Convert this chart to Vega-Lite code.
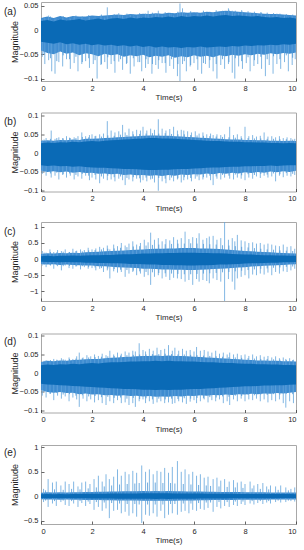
{
"$schema":"https://vega.github.io/schema/vega-lite/v6.json",
"padding":{"left":3,"top":1,"right":8,"bottom":0},
"spacing":8.5,
"config":{"font":"Liberation Sans","view":{"stroke":"#a8a8a8","strokeWidth":1},
"axis":{"labelFont":"Liberation Sans","labelFontSize":7.5,"labelColor":"#262626","titleFont":"Liberation Sans","titleFontWeight":"normal","titleColor":"#262626","tickColor":"#404040","tickSize":-3,"tickWidth":0.8,"domain":false,"grid":false,"labelOverlap":false},
"axisX":{"labelPadding":6,"titlePadding":2,"titleFontSize":8},
"axisY":{"labelPadding":6,"titlePadding":2,"titleFontSize":9,"minExtent":20,"maxExtent":20},
"title":{"font":"Liberation Sans","fontSize":10,"fontWeight":"normal","anchor":"start","frame":"bounds","color":"#262626","offset":-15,"dx":-6}},
"datasets":{
"a_core":[{"t":0,"chi":0.019,"clo":-0.024,"fhi":0.025,"flo":-0.042},{"t":0.25,"chi":0.021,"clo":-0.026,"fhi":0.028,"flo":-0.047},{"t":0.5,"chi":0.018,"clo":-0.028,"fhi":0.025,"flo":-0.05},{"t":0.75,"chi":0.022,"clo":-0.025,"fhi":0.029,"flo":-0.044},{"t":1,"chi":0.02,"clo":-0.029,"fhi":0.026,"flo":-0.049},{"t":1.25,"chi":0.021,"clo":-0.027,"fhi":0.029,"flo":-0.046},{"t":1.5,"chi":0.023,"clo":-0.03,"fhi":0.028,"flo":-0.052},{"t":1.75,"chi":0.02,"clo":-0.028,"fhi":0.028,"flo":-0.048},{"t":2,"chi":0.022,"clo":-0.031,"fhi":0.03,"flo":-0.05},{"t":2.25,"chi":0.024,"clo":-0.029,"fhi":0.029,"flo":-0.054},{"t":2.5,"chi":0.021,"clo":-0.032,"fhi":0.03,"flo":-0.049},{"t":2.75,"chi":0.024,"clo":-0.03,"fhi":0.031,"flo":-0.052},{"t":3,"chi":0.025,"clo":-0.033,"fhi":0.032,"flo":-0.05},{"t":3.25,"chi":0.023,"clo":-0.031,"fhi":0.031,"flo":-0.055},{"t":3.5,"chi":0.026,"clo":-0.034,"fhi":0.033,"flo":-0.052},{"t":3.75,"chi":0.024,"clo":-0.032,"fhi":0.032,"flo":-0.054},{"t":4,"chi":0.026,"clo":-0.035,"fhi":0.034,"flo":-0.051},{"t":4.25,"chi":0.025,"clo":-0.033,"fhi":0.033,"flo":-0.056},{"t":4.5,"chi":0.027,"clo":-0.036,"fhi":0.035,"flo":-0.053},{"t":4.75,"chi":0.026,"clo":-0.034,"fhi":0.034,"flo":-0.055},{"t":5,"chi":0.028,"clo":-0.036,"fhi":0.036,"flo":-0.052},{"t":5.25,"chi":0.026,"clo":-0.035,"fhi":0.035,"flo":-0.057},{"t":5.5,"chi":0.029,"clo":-0.037,"fhi":0.037,"flo":-0.054},{"t":5.75,"chi":0.027,"clo":-0.035,"fhi":0.036,"flo":-0.056},{"t":6,"chi":0.029,"clo":-0.036,"fhi":0.037,"flo":-0.052},{"t":6.25,"chi":0.028,"clo":-0.034,"fhi":0.036,"flo":-0.055},{"t":6.5,"chi":0.03,"clo":-0.036,"fhi":0.038,"flo":-0.053},{"t":6.75,"chi":0.028,"clo":-0.035,"fhi":0.037,"flo":-0.056},{"t":7,"chi":0.03,"clo":-0.034,"fhi":0.039,"flo":-0.052},{"t":7.25,"chi":0.031,"clo":-0.035,"fhi":0.04,"flo":-0.054},{"t":7.5,"chi":0.029,"clo":-0.033,"fhi":0.039,"flo":-0.051},{"t":7.75,"chi":0.03,"clo":-0.034,"fhi":0.038,"flo":-0.053},{"t":8,"chi":0.029,"clo":-0.032,"fhi":0.037,"flo":-0.05},{"t":8.25,"chi":0.028,"clo":-0.033,"fhi":0.036,"flo":-0.052},{"t":8.5,"chi":0.029,"clo":-0.031,"fhi":0.035,"flo":-0.049},{"t":8.75,"chi":0.027,"clo":-0.032,"fhi":0.034,"flo":-0.051},{"t":9,"chi":0.026,"clo":-0.03,"fhi":0.033,"flo":-0.048},{"t":9.25,"chi":0.027,"clo":-0.031,"fhi":0.033,"flo":-0.05},{"t":9.5,"chi":0.025,"clo":-0.029,"fhi":0.032,"flo":-0.047},{"t":9.75,"chi":0.026,"clo":-0.03,"fhi":0.031,"flo":-0.049},{"t":10,"chi":0.024,"clo":-0.028,"fhi":0.03,"flo":-0.046}],
"a_spk":[{"t":0.05,"lo":-0.055,"hi":0.022},{"t":0.15,"lo":-0.07,"hi":0.025},{"t":0.3,"lo":-0.062,"hi":0.03},{"t":0.42,"lo":-0.085,"hi":0.02},{"t":0.55,"lo":-0.09,"hi":0.024},{"t":0.7,"lo":-0.066,"hi":0.022},{"t":0.85,"lo":-0.075,"hi":0.026},{"t":1.0,"lo":-0.06,"hi":0.02},{"t":1.15,"lo":-0.08,"hi":0.024},{"t":1.3,"lo":-0.068,"hi":0.028},{"t":1.45,"lo":-0.085,"hi":0.022},{"t":1.6,"lo":-0.07,"hi":0.026},{"t":1.75,"lo":-0.064,"hi":0.02},{"t":1.9,"lo":-0.078,"hi":0.027},{"t":2.05,"lo":-0.07,"hi":0.024},{"t":2.2,"lo":-0.1,"hi":0.022},{"t":2.35,"lo":-0.072,"hi":0.03},{"t":2.5,"lo":-0.066,"hi":0.026},{"t":2.6,"lo":-0.08,"hi":0.047},{"t":2.75,"lo":-0.07,"hi":0.028},{"t":2.9,"lo":-0.088,"hi":0.025},{"t":3.05,"lo":-0.065,"hi":0.035},{"t":3.2,"lo":-0.082,"hi":0.03},{"t":3.35,"lo":-0.07,"hi":0.026},{"t":3.5,"lo":-0.09,"hi":0.032},{"t":3.65,"lo":-0.075,"hi":0.028},{"t":3.8,"lo":-0.066,"hi":0.03},{"t":3.95,"lo":-0.085,"hi":0.027},{"t":4.1,"lo":-0.078,"hi":0.034},{"t":4.2,"lo":-0.07,"hi":0.04},{"t":4.35,"lo":-0.09,"hi":0.03},{"t":4.5,"lo":-0.072,"hi":0.033},{"t":4.6,"lo":-0.08,"hi":0.04},{"t":4.75,"lo":-0.068,"hi":0.03},{"t":4.9,"lo":-0.088,"hi":0.028},{"t":5.05,"lo":-0.074,"hi":0.034},{"t":5.2,"lo":-0.08,"hi":0.03},{"t":5.35,"lo":-0.095,"hi":0.036},{"t":5.45,"lo":-0.105,"hi":0.055},{"t":5.55,"lo":-0.07,"hi":0.045},{"t":5.7,"lo":-0.085,"hi":0.032},{"t":5.85,"lo":-0.075,"hi":0.036},{"t":6.0,"lo":-0.068,"hi":0.03},{"t":6.15,"lo":-0.082,"hi":0.034},{"t":6.3,"lo":-0.09,"hi":0.032},{"t":6.45,"lo":-0.07,"hi":0.036},{"t":6.6,"lo":-0.078,"hi":0.033},{"t":6.75,"lo":-0.085,"hi":0.035},{"t":6.9,"lo":-0.1,"hi":0.03},{"t":7.05,"lo":-0.072,"hi":0.036},{"t":7.2,"lo":-0.08,"hi":0.038},{"t":7.35,"lo":-0.07,"hi":0.045},{"t":7.5,"lo":-0.088,"hi":0.04},{"t":7.6,"lo":-0.1,"hi":0.035},{"t":7.75,"lo":-0.075,"hi":0.036},{"t":7.9,"lo":-0.08,"hi":0.038},{"t":8.05,"lo":-0.068,"hi":0.034},{"t":8.2,"lo":-0.085,"hi":0.036},{"t":8.35,"lo":-0.074,"hi":0.035},{"t":8.5,"lo":-0.07,"hi":0.033},{"t":8.65,"lo":-0.08,"hi":0.036},{"t":8.8,"lo":-0.095,"hi":0.03},{"t":8.95,"lo":-0.072,"hi":0.032},{"t":9.1,"lo":-0.09,"hi":0.03},{"t":9.25,"lo":-0.07,"hi":0.034},{"t":9.4,"lo":-0.08,"hi":0.028},{"t":9.55,"lo":-0.066,"hi":0.03},{"t":9.7,"lo":-0.085,"hi":0.027},{"t":9.85,"lo":-0.072,"hi":0.03},{"t":9.97,"lo":-0.06,"hi":0.026}],
"a_spk2":[{"t":0.12,"lo":-0.05,"hi":0.026},{"t":0.37,"lo":-0.058,"hi":0.028},{"t":0.62,"lo":-0.064,"hi":0.025},{"t":0.87,"lo":-0.052,"hi":0.029},{"t":1.12,"lo":-0.06,"hi":0.027},{"t":1.37,"lo":-0.055,"hi":0.03},{"t":1.62,"lo":-0.066,"hi":0.028},{"t":1.87,"lo":-0.058,"hi":0.031},{"t":2.12,"lo":-0.062,"hi":0.029},{"t":2.37,"lo":-0.07,"hi":0.032},{"t":2.62,"lo":-0.056,"hi":0.03},{"t":2.87,"lo":-0.064,"hi":0.033},{"t":3.12,"lo":-0.06,"hi":0.031},{"t":3.37,"lo":-0.068,"hi":0.034},{"t":3.62,"lo":-0.058,"hi":0.032},{"t":3.87,"lo":-0.066,"hi":0.035},{"t":4.12,"lo":-0.06,"hi":0.033},{"t":4.37,"lo":-0.07,"hi":0.036},{"t":4.62,"lo":-0.062,"hi":0.034},{"t":4.87,"lo":-0.068,"hi":0.037},{"t":5.12,"lo":-0.06,"hi":0.035},{"t":5.37,"lo":-0.07,"hi":0.038},{"t":5.62,"lo":-0.064,"hi":0.036},{"t":5.87,"lo":-0.072,"hi":0.039},{"t":6.12,"lo":-0.06,"hi":0.037},{"t":6.37,"lo":-0.068,"hi":0.04},{"t":6.62,"lo":-0.062,"hi":0.038},{"t":6.87,"lo":-0.07,"hi":0.041},{"t":7.12,"lo":-0.06,"hi":0.04},{"t":7.37,"lo":-0.066,"hi":0.042},{"t":7.62,"lo":-0.058,"hi":0.04},{"t":7.87,"lo":-0.064,"hi":0.041},{"t":8.12,"lo":-0.056,"hi":0.039},{"t":8.37,"lo":-0.062,"hi":0.038},{"t":8.62,"lo":-0.055,"hi":0.037},{"t":8.87,"lo":-0.06,"hi":0.036},{"t":9.12,"lo":-0.054,"hi":0.035},{"t":9.37,"lo":-0.06,"hi":0.034},{"t":9.62,"lo":-0.052,"hi":0.033},{"t":9.87,"lo":-0.057,"hi":0.032}],
"b_core":[{"t":0,"chi":0.026,"clo":-0.032,"fhi":0.032,"flo":-0.046},{"t":0.25,"chi":0.028,"clo":-0.034,"fhi":0.034,"flo":-0.05},{"t":0.5,"chi":0.027,"clo":-0.033,"fhi":0.033,"flo":-0.048},{"t":0.75,"chi":0.029,"clo":-0.035,"fhi":0.035,"flo":-0.051},{"t":1,"chi":0.028,"clo":-0.034,"fhi":0.034,"flo":-0.049},{"t":1.25,"chi":0.03,"clo":-0.036,"fhi":0.036,"flo":-0.052},{"t":1.5,"chi":0.029,"clo":-0.035,"fhi":0.035,"flo":-0.05},{"t":1.75,"chi":0.031,"clo":-0.037,"fhi":0.038,"flo":-0.053},{"t":2,"chi":0.032,"clo":-0.038,"fhi":0.038,"flo":-0.052},{"t":2.25,"chi":0.031,"clo":-0.039,"fhi":0.039,"flo":-0.055},{"t":2.5,"chi":0.033,"clo":-0.039,"fhi":0.04,"flo":-0.054},{"t":2.75,"chi":0.034,"clo":-0.04,"fhi":0.041,"flo":-0.056},{"t":3,"chi":0.035,"clo":-0.041,"fhi":0.042,"flo":-0.055},{"t":3.25,"chi":0.036,"clo":-0.042,"fhi":0.043,"flo":-0.058},{"t":3.5,"chi":0.037,"clo":-0.042,"fhi":0.044,"flo":-0.057},{"t":3.75,"chi":0.038,"clo":-0.043,"fhi":0.045,"flo":-0.059},{"t":4,"chi":0.039,"clo":-0.044,"fhi":0.046,"flo":-0.058},{"t":4.25,"chi":0.04,"clo":-0.045,"fhi":0.047,"flo":-0.06},{"t":4.5,"chi":0.04,"clo":-0.045,"fhi":0.047,"flo":-0.059},{"t":4.75,"chi":0.039,"clo":-0.044,"fhi":0.046,"flo":-0.061},{"t":5,"chi":0.039,"clo":-0.044,"fhi":0.046,"flo":-0.058},{"t":5.25,"chi":0.038,"clo":-0.043,"fhi":0.045,"flo":-0.06},{"t":5.5,"chi":0.037,"clo":-0.042,"fhi":0.044,"flo":-0.057},{"t":5.75,"chi":0.036,"clo":-0.042,"fhi":0.043,"flo":-0.058},{"t":6,"chi":0.035,"clo":-0.041,"fhi":0.042,"flo":-0.056},{"t":6.25,"chi":0.034,"clo":-0.04,"fhi":0.041,"flo":-0.057},{"t":6.5,"chi":0.033,"clo":-0.039,"fhi":0.04,"flo":-0.054},{"t":6.75,"chi":0.032,"clo":-0.038,"fhi":0.039,"flo":-0.056},{"t":7,"chi":0.032,"clo":-0.038,"fhi":0.038,"flo":-0.053},{"t":7.25,"chi":0.031,"clo":-0.037,"fhi":0.037,"flo":-0.055},{"t":7.5,"chi":0.03,"clo":-0.036,"fhi":0.036,"flo":-0.052},{"t":7.75,"chi":0.03,"clo":-0.036,"fhi":0.036,"flo":-0.054},{"t":8,"chi":0.029,"clo":-0.035,"fhi":0.035,"flo":-0.051},{"t":8.25,"chi":0.029,"clo":-0.035,"fhi":0.035,"flo":-0.053},{"t":8.5,"chi":0.028,"clo":-0.034,"fhi":0.034,"flo":-0.05},{"t":8.75,"chi":0.028,"clo":-0.034,"fhi":0.034,"flo":-0.052},{"t":9,"chi":0.027,"clo":-0.033,"fhi":0.033,"flo":-0.049},{"t":9.25,"chi":0.027,"clo":-0.034,"fhi":0.033,"flo":-0.051},{"t":9.5,"chi":0.026,"clo":-0.033,"fhi":0.032,"flo":-0.048},{"t":9.75,"chi":0.027,"clo":-0.032,"fhi":0.033,"flo":-0.05},{"t":10,"chi":0.026,"clo":-0.032,"fhi":0.032,"flo":-0.047}],
"b_spk":[{"t":0.05,"lo":-0.055,"hi":0.035},{"t":0.2,"lo":-0.06,"hi":0.04},{"t":0.4,"lo":-0.065,"hi":0.06},{"t":0.55,"lo":-0.06,"hi":0.038},{"t":0.7,"lo":-0.07,"hi":0.042},{"t":0.85,"lo":-0.058,"hi":0.04},{"t":1.0,"lo":-0.065,"hi":0.045},{"t":1.15,"lo":-0.06,"hi":0.04},{"t":1.3,"lo":-0.07,"hi":0.042},{"t":1.45,"lo":-0.062,"hi":0.045},{"t":1.6,"lo":-0.068,"hi":0.055},{"t":1.75,"lo":-0.06,"hi":0.045},{"t":1.9,"lo":-0.072,"hi":0.048},{"t":2.0,"lo":-0.065,"hi":0.05},{"t":2.15,"lo":-0.07,"hi":0.046},{"t":2.3,"lo":-0.08,"hi":0.05},{"t":2.45,"lo":-0.068,"hi":0.052},{"t":2.6,"lo":-0.072,"hi":0.085},{"t":2.75,"lo":-0.07,"hi":0.06},{"t":2.9,"lo":-0.075,"hi":0.055},{"t":3.05,"lo":-0.068,"hi":0.058},{"t":3.2,"lo":-0.072,"hi":0.075},{"t":3.3,"lo":-0.085,"hi":0.055},{"t":3.45,"lo":-0.07,"hi":0.065},{"t":3.6,"lo":-0.075,"hi":0.058},{"t":3.75,"lo":-0.068,"hi":0.062},{"t":3.9,"lo":-0.078,"hi":0.06},{"t":4.0,"lo":-0.072,"hi":0.07},{"t":4.15,"lo":-0.075,"hi":0.06},{"t":4.3,"lo":-0.07,"hi":0.065},{"t":4.45,"lo":-0.078,"hi":0.062},{"t":4.6,"lo":-0.1,"hi":0.09},{"t":4.75,"lo":-0.075,"hi":0.065},{"t":4.9,"lo":-0.08,"hi":0.06},{"t":5.05,"lo":-0.072,"hi":0.064},{"t":5.2,"lo":-0.075,"hi":0.07},{"t":5.35,"lo":-0.07,"hi":0.06},{"t":5.5,"lo":-0.078,"hi":0.062},{"t":5.6,"lo":-0.072,"hi":0.06},{"t":5.75,"lo":-0.07,"hi":0.058},{"t":5.9,"lo":-0.075,"hi":0.055},{"t":6.05,"lo":-0.068,"hi":0.058},{"t":6.2,"lo":-0.072,"hi":0.052},{"t":6.35,"lo":-0.07,"hi":0.055},{"t":6.5,"lo":-0.065,"hi":0.05},{"t":6.65,"lo":-0.072,"hi":0.052},{"t":6.75,"lo":-0.085,"hi":0.048},{"t":6.9,"lo":-0.068,"hi":0.05},{"t":7.05,"lo":-0.07,"hi":0.048},{"t":7.2,"lo":-0.065,"hi":0.05},{"t":7.4,"lo":-0.068,"hi":0.07},{"t":7.55,"lo":-0.07,"hi":0.048},{"t":7.7,"lo":-0.065,"hi":0.05},{"t":7.85,"lo":-0.068,"hi":0.045},{"t":8.0,"lo":-0.072,"hi":0.07},{"t":8.15,"lo":-0.065,"hi":0.045},{"t":8.3,"lo":-0.068,"hi":0.048},{"t":8.45,"lo":-0.062,"hi":0.044},{"t":8.6,"lo":-0.066,"hi":0.046},{"t":8.75,"lo":-0.06,"hi":0.055},{"t":8.9,"lo":-0.065,"hi":0.044},{"t":9.05,"lo":-0.062,"hi":0.045},{"t":9.2,"lo":-0.075,"hi":0.042},{"t":9.35,"lo":-0.06,"hi":0.045},{"t":9.5,"lo":-0.064,"hi":0.04},{"t":9.65,"lo":-0.06,"hi":0.042},{"t":9.8,"lo":-0.062,"hi":0.04},{"t":9.95,"lo":-0.058,"hi":0.038}],
"b_spk2":[{"t":0.12,"lo":-0.05,"hi":0.036},{"t":0.37,"lo":-0.054,"hi":0.038},{"t":0.62,"lo":-0.052,"hi":0.04},{"t":0.87,"lo":-0.056,"hi":0.039},{"t":1.12,"lo":-0.054,"hi":0.041},{"t":1.37,"lo":-0.058,"hi":0.04},{"t":1.62,"lo":-0.055,"hi":0.043},{"t":1.87,"lo":-0.06,"hi":0.042},{"t":2.12,"lo":-0.058,"hi":0.045},{"t":2.37,"lo":-0.062,"hi":0.044},{"t":2.62,"lo":-0.06,"hi":0.047},{"t":2.87,"lo":-0.064,"hi":0.046},{"t":3.12,"lo":-0.062,"hi":0.049},{"t":3.37,"lo":-0.066,"hi":0.048},{"t":3.62,"lo":-0.064,"hi":0.05},{"t":3.87,"lo":-0.067,"hi":0.051},{"t":4.12,"lo":-0.065,"hi":0.052},{"t":4.37,"lo":-0.068,"hi":0.053},{"t":4.62,"lo":-0.066,"hi":0.052},{"t":4.87,"lo":-0.068,"hi":0.053},{"t":5.12,"lo":-0.065,"hi":0.051},{"t":5.37,"lo":-0.067,"hi":0.05},{"t":5.62,"lo":-0.064,"hi":0.05},{"t":5.87,"lo":-0.066,"hi":0.048},{"t":6.12,"lo":-0.062,"hi":0.047},{"t":6.37,"lo":-0.064,"hi":0.046},{"t":6.62,"lo":-0.06,"hi":0.045},{"t":6.87,"lo":-0.062,"hi":0.044},{"t":7.12,"lo":-0.058,"hi":0.043},{"t":7.37,"lo":-0.06,"hi":0.042},{"t":7.62,"lo":-0.057,"hi":0.041},{"t":7.87,"lo":-0.059,"hi":0.04},{"t":8.12,"lo":-0.056,"hi":0.04},{"t":8.37,"lo":-0.058,"hi":0.039},{"t":8.62,"lo":-0.055,"hi":0.039},{"t":8.87,"lo":-0.057,"hi":0.038},{"t":9.12,"lo":-0.054,"hi":0.038},{"t":9.37,"lo":-0.056,"hi":0.037},{"t":9.62,"lo":-0.053,"hi":0.037},{"t":9.87,"lo":-0.055,"hi":0.036}],
"c_core":[{"t":0,"chi":0.09,"clo":-0.08,"fhi":0.16,"flo":-0.15},{"t":0.25,"chi":0.1,"clo":-0.09,"fhi":0.18,"flo":-0.17},{"t":0.5,"chi":0.09,"clo":-0.09,"fhi":0.17,"flo":-0.16},{"t":0.75,"chi":0.1,"clo":-0.1,"fhi":0.19,"flo":-0.18},{"t":1,"chi":0.1,"clo":-0.09,"fhi":0.18,"flo":-0.17},{"t":1.25,"chi":0.11,"clo":-0.1,"fhi":0.2,"flo":-0.18},{"t":1.5,"chi":0.1,"clo":-0.1,"fhi":0.19,"flo":-0.19},{"t":1.75,"chi":0.11,"clo":-0.11,"fhi":0.21,"flo":-0.2},{"t":2,"chi":0.12,"clo":-0.11,"fhi":0.22,"flo":-0.2},{"t":2.25,"chi":0.12,"clo":-0.12,"fhi":0.23,"flo":-0.22},{"t":2.5,"chi":0.13,"clo":-0.12,"fhi":0.24,"flo":-0.22},{"t":2.75,"chi":0.13,"clo":-0.13,"fhi":0.25,"flo":-0.24},{"t":3,"chi":0.14,"clo":-0.13,"fhi":0.26,"flo":-0.25},{"t":3.25,"chi":0.15,"clo":-0.14,"fhi":0.27,"flo":-0.26},{"t":3.5,"chi":0.15,"clo":-0.15,"fhi":0.28,"flo":-0.27},{"t":3.75,"chi":0.16,"clo":-0.15,"fhi":0.29,"flo":-0.28},{"t":4,"chi":0.17,"clo":-0.16,"fhi":0.3,"flo":-0.3},{"t":4.25,"chi":0.17,"clo":-0.17,"fhi":0.31,"flo":-0.3},{"t":4.5,"chi":0.18,"clo":-0.17,"fhi":0.32,"flo":-0.31},{"t":4.75,"chi":0.18,"clo":-0.18,"fhi":0.32,"flo":-0.32},{"t":5,"chi":0.19,"clo":-0.18,"fhi":0.33,"flo":-0.32},{"t":5.25,"chi":0.19,"clo":-0.19,"fhi":0.33,"flo":-0.33},{"t":5.5,"chi":0.2,"clo":-0.19,"fhi":0.34,"flo":-0.33},{"t":5.75,"chi":0.2,"clo":-0.2,"fhi":0.34,"flo":-0.34},{"t":6,"chi":0.2,"clo":-0.2,"fhi":0.34,"flo":-0.34},{"t":6.25,"chi":0.19,"clo":-0.19,"fhi":0.33,"flo":-0.33},{"t":6.5,"chi":0.19,"clo":-0.19,"fhi":0.33,"flo":-0.32},{"t":6.75,"chi":0.18,"clo":-0.18,"fhi":0.32,"flo":-0.31},{"t":7,"chi":0.18,"clo":-0.17,"fhi":0.31,"flo":-0.3},{"t":7.25,"chi":0.17,"clo":-0.17,"fhi":0.3,"flo":-0.29},{"t":7.5,"chi":0.16,"clo":-0.16,"fhi":0.28,"flo":-0.28},{"t":7.75,"chi":0.15,"clo":-0.15,"fhi":0.27,"flo":-0.26},{"t":8,"chi":0.14,"clo":-0.14,"fhi":0.25,"flo":-0.25},{"t":8.25,"chi":0.14,"clo":-0.13,"fhi":0.24,"flo":-0.23},{"t":8.5,"chi":0.13,"clo":-0.13,"fhi":0.23,"flo":-0.22},{"t":8.75,"chi":0.12,"clo":-0.12,"fhi":0.22,"flo":-0.21},{"t":9,"chi":0.12,"clo":-0.11,"fhi":0.21,"flo":-0.2},{"t":9.25,"chi":0.11,"clo":-0.11,"fhi":0.2,"flo":-0.19},{"t":9.5,"chi":0.11,"clo":-0.1,"fhi":0.19,"flo":-0.18},{"t":9.75,"chi":0.1,"clo":-0.1,"fhi":0.18,"flo":-0.17},{"t":10,"chi":0.1,"clo":-0.09,"fhi":0.17,"flo":-0.16}],
"c_spk":[{"t":0.05,"lo":-0.2,"hi":0.25},{"t":0.2,"lo":-0.25,"hi":0.2},{"t":0.35,"lo":-0.18,"hi":0.3},{"t":0.5,"lo":-0.3,"hi":0.22},{"t":0.65,"lo":-0.22,"hi":0.28},{"t":0.8,"lo":-0.35,"hi":0.25},{"t":0.95,"lo":-0.2,"hi":0.3},{"t":1.1,"lo":-0.28,"hi":0.22},{"t":1.25,"lo":-0.3,"hi":0.32},{"t":1.4,"lo":-0.22,"hi":0.26},{"t":1.55,"lo":-0.32,"hi":0.3},{"t":1.7,"lo":-0.25,"hi":0.28},{"t":1.85,"lo":-0.3,"hi":0.35},{"t":2.0,"lo":-0.28,"hi":0.3},{"t":2.15,"lo":-0.35,"hi":0.33},{"t":2.3,"lo":-0.3,"hi":0.38},{"t":2.45,"lo":-0.4,"hi":0.35},{"t":2.6,"lo":-0.35,"hi":0.42},{"t":2.7,"lo":-0.6,"hi":0.3},{"t":2.85,"lo":-0.38,"hi":0.45},{"t":3.0,"lo":-0.42,"hi":0.4},{"t":3.15,"lo":-0.4,"hi":0.5},{"t":3.3,"lo":-0.55,"hi":0.42},{"t":3.45,"lo":-0.45,"hi":0.48},{"t":3.6,"lo":-0.4,"hi":0.55},{"t":3.75,"lo":-0.5,"hi":0.45},{"t":3.9,"lo":-0.45,"hi":0.5},{"t":4.05,"lo":-0.55,"hi":0.6},{"t":4.2,"lo":-0.5,"hi":0.52},{"t":4.3,"lo":-0.8,"hi":0.82},{"t":4.45,"lo":-0.55,"hi":0.6},{"t":4.6,"lo":-0.5,"hi":0.65},{"t":4.75,"lo":-0.6,"hi":0.55},{"t":4.9,"lo":-0.55,"hi":0.62},{"t":5.05,"lo":-0.65,"hi":0.58},{"t":5.2,"lo":-0.58,"hi":0.68},{"t":5.35,"lo":-0.6,"hi":0.6},{"t":5.5,"lo":-0.62,"hi":0.65},{"t":5.65,"lo":-0.7,"hi":0.85},{"t":5.8,"lo":-0.65,"hi":0.62},{"t":5.95,"lo":-0.8,"hi":0.68},{"t":6.1,"lo":-0.62,"hi":0.65},{"t":6.2,"lo":-0.7,"hi":0.8},{"t":6.35,"lo":-0.65,"hi":0.6},{"t":6.5,"lo":-0.68,"hi":0.65},{"t":6.6,"lo":-0.75,"hi":0.7},{"t":6.75,"lo":-0.6,"hi":0.72},{"t":6.9,"lo":-0.65,"hi":0.6},{"t":7.05,"lo":-0.7,"hi":0.65},{"t":7.2,"lo":-1.4,"hi":1.2},{"t":7.35,"lo":-0.62,"hi":0.6},{"t":7.5,"lo":-0.7,"hi":0.65},{"t":7.6,"lo":-0.95,"hi":0.55},{"t":7.7,"lo":-0.6,"hi":0.75},{"t":7.85,"lo":-0.55,"hi":0.58},{"t":8.0,"lo":-0.5,"hi":0.55},{"t":8.15,"lo":-0.6,"hi":0.5},{"t":8.3,"lo":-0.48,"hi":0.52},{"t":8.45,"lo":-0.5,"hi":0.48},{"t":8.6,"lo":-0.45,"hi":0.5},{"t":8.75,"lo":-0.48,"hi":0.45},{"t":8.9,"lo":-0.42,"hi":0.48},{"t":9.05,"lo":-0.5,"hi":0.45},{"t":9.2,"lo":-0.4,"hi":0.42},{"t":9.35,"lo":-0.45,"hi":0.4},{"t":9.5,"lo":-0.38,"hi":0.45},{"t":9.65,"lo":-0.4,"hi":0.38},{"t":9.8,"lo":-0.35,"hi":0.4},{"t":9.95,"lo":-0.3,"hi":0.32}],
"c_spk2":[{"t":0.12,"lo":-0.18,"hi":0.2},{"t":0.37,"lo":-0.2,"hi":0.22},{"t":0.62,"lo":-0.19,"hi":0.21},{"t":0.87,"lo":-0.22,"hi":0.23},{"t":1.12,"lo":-0.21,"hi":0.22},{"t":1.37,"lo":-0.23,"hi":0.25},{"t":1.62,"lo":-0.22,"hi":0.24},{"t":1.87,"lo":-0.25,"hi":0.27},{"t":2.12,"lo":-0.26,"hi":0.28},{"t":2.37,"lo":-0.28,"hi":0.3},{"t":2.62,"lo":-0.29,"hi":0.32},{"t":2.87,"lo":-0.31,"hi":0.33},{"t":3.12,"lo":-0.33,"hi":0.35},{"t":3.37,"lo":-0.34,"hi":0.37},{"t":3.62,"lo":-0.36,"hi":0.39},{"t":3.87,"lo":-0.38,"hi":0.4},{"t":4.12,"lo":-0.4,"hi":0.42},{"t":4.37,"lo":-0.41,"hi":0.44},{"t":4.62,"lo":-0.43,"hi":0.45},{"t":4.87,"lo":-0.44,"hi":0.46},{"t":5.12,"lo":-0.45,"hi":0.47},{"t":5.37,"lo":-0.46,"hi":0.48},{"t":5.62,"lo":-0.47,"hi":0.48},{"t":5.87,"lo":-0.47,"hi":0.49},{"t":6.12,"lo":-0.46,"hi":0.48},{"t":6.37,"lo":-0.45,"hi":0.47},{"t":6.62,"lo":-0.44,"hi":0.46},{"t":6.87,"lo":-0.43,"hi":0.45},{"t":7.12,"lo":-0.41,"hi":0.43},{"t":7.37,"lo":-0.4,"hi":0.42},{"t":7.62,"lo":-0.38,"hi":0.4},{"t":7.87,"lo":-0.36,"hi":0.38},{"t":8.12,"lo":-0.34,"hi":0.36},{"t":8.37,"lo":-0.32,"hi":0.34},{"t":8.62,"lo":-0.3,"hi":0.32},{"t":8.87,"lo":-0.29,"hi":0.3},{"t":9.12,"lo":-0.27,"hi":0.29},{"t":9.37,"lo":-0.26,"hi":0.27},{"t":9.62,"lo":-0.24,"hi":0.26},{"t":9.87,"lo":-0.23,"hi":0.25}],
"d_core":[{"t":0,"chi":0.021,"clo":-0.028,"fhi":0.03,"flo":-0.045},{"t":0.25,"chi":0.023,"clo":-0.03,"fhi":0.033,"flo":-0.05},{"t":0.5,"chi":0.022,"clo":-0.031,"fhi":0.032,"flo":-0.052},{"t":0.75,"chi":0.024,"clo":-0.032,"fhi":0.034,"flo":-0.05},{"t":1,"chi":0.023,"clo":-0.033,"fhi":0.033,"flo":-0.053},{"t":1.25,"chi":0.025,"clo":-0.034,"fhi":0.035,"flo":-0.052},{"t":1.5,"chi":0.024,"clo":-0.035,"fhi":0.036,"flo":-0.056},{"t":1.75,"chi":0.026,"clo":-0.036,"fhi":0.037,"flo":-0.054},{"t":2,"chi":0.027,"clo":-0.037,"fhi":0.038,"flo":-0.057},{"t":2.25,"chi":0.026,"clo":-0.038,"fhi":0.038,"flo":-0.056},{"t":2.5,"chi":0.028,"clo":-0.039,"fhi":0.04,"flo":-0.059},{"t":2.75,"chi":0.029,"clo":-0.04,"fhi":0.041,"flo":-0.058},{"t":3,"chi":0.029,"clo":-0.041,"fhi":0.042,"flo":-0.06},{"t":3.25,"chi":0.03,"clo":-0.042,"fhi":0.043,"flo":-0.059},{"t":3.5,"chi":0.031,"clo":-0.042,"fhi":0.044,"flo":-0.061},{"t":3.75,"chi":0.031,"clo":-0.043,"fhi":0.045,"flo":-0.06},{"t":4,"chi":0.032,"clo":-0.044,"fhi":0.046,"flo":-0.062},{"t":4.25,"chi":0.032,"clo":-0.044,"fhi":0.046,"flo":-0.061},{"t":4.5,"chi":0.033,"clo":-0.045,"fhi":0.047,"flo":-0.063},{"t":4.75,"chi":0.032,"clo":-0.044,"fhi":0.046,"flo":-0.062},{"t":5,"chi":0.033,"clo":-0.045,"fhi":0.047,"flo":-0.063},{"t":5.25,"chi":0.032,"clo":-0.044,"fhi":0.046,"flo":-0.061},{"t":5.5,"chi":0.032,"clo":-0.044,"fhi":0.046,"flo":-0.062},{"t":5.75,"chi":0.031,"clo":-0.043,"fhi":0.045,"flo":-0.06},{"t":6,"chi":0.031,"clo":-0.042,"fhi":0.044,"flo":-0.061},{"t":6.25,"chi":0.03,"clo":-0.042,"fhi":0.043,"flo":-0.059},{"t":6.5,"chi":0.029,"clo":-0.041,"fhi":0.042,"flo":-0.06},{"t":6.75,"chi":0.029,"clo":-0.04,"fhi":0.041,"flo":-0.058},{"t":7,"chi":0.028,"clo":-0.039,"fhi":0.04,"flo":-0.059},{"t":7.25,"chi":0.027,"clo":-0.038,"fhi":0.039,"flo":-0.057},{"t":7.5,"chi":0.027,"clo":-0.037,"fhi":0.038,"flo":-0.058},{"t":7.75,"chi":0.026,"clo":-0.036,"fhi":0.037,"flo":-0.056},{"t":8,"chi":0.025,"clo":-0.035,"fhi":0.036,"flo":-0.057},{"t":8.25,"chi":0.025,"clo":-0.035,"fhi":0.035,"flo":-0.055},{"t":8.5,"chi":0.024,"clo":-0.034,"fhi":0.034,"flo":-0.056},{"t":8.75,"chi":0.024,"clo":-0.033,"fhi":0.034,"flo":-0.054},{"t":9,"chi":0.023,"clo":-0.033,"fhi":0.033,"flo":-0.055},{"t":9.25,"chi":0.023,"clo":-0.032,"fhi":0.033,"flo":-0.053},{"t":9.5,"chi":0.022,"clo":-0.032,"fhi":0.032,"flo":-0.054},{"t":9.75,"chi":0.022,"clo":-0.031,"fhi":0.032,"flo":-0.052},{"t":10,"chi":0.021,"clo":-0.03,"fhi":0.031,"flo":-0.05}],
"d_spk":[{"t":0.05,"lo":-0.06,"hi":0.03},{"t":0.2,"lo":-0.065,"hi":0.035},{"t":0.35,"lo":-0.055,"hi":0.032},{"t":0.5,"lo":-0.072,"hi":0.038},{"t":0.65,"lo":-0.06,"hi":0.034},{"t":0.8,"lo":-0.068,"hi":0.04},{"t":0.95,"lo":-0.062,"hi":0.036},{"t":1.1,"lo":-0.075,"hi":0.042},{"t":1.25,"lo":-0.065,"hi":0.038},{"t":1.4,"lo":-0.07,"hi":0.045},{"t":1.5,"lo":-0.09,"hi":0.055},{"t":1.65,"lo":-0.068,"hi":0.042},{"t":1.8,"lo":-0.075,"hi":0.048},{"t":1.95,"lo":-0.07,"hi":0.045},{"t":2.1,"lo":-0.078,"hi":0.05},{"t":2.25,"lo":-0.072,"hi":0.046},{"t":2.4,"lo":-0.08,"hi":0.052},{"t":2.55,"lo":-0.085,"hi":0.048},{"t":2.7,"lo":-0.075,"hi":0.06},{"t":2.85,"lo":-0.08,"hi":0.05},{"t":3.0,"lo":-0.072,"hi":0.055},{"t":3.15,"lo":-0.08,"hi":0.052},{"t":3.3,"lo":-0.078,"hi":0.058},{"t":3.45,"lo":-0.085,"hi":0.055},{"t":3.6,"lo":-0.08,"hi":0.06},{"t":3.7,"lo":-0.09,"hi":0.058},{"t":3.85,"lo":-0.075,"hi":0.08},{"t":4.0,"lo":-0.07,"hi":0.062},{"t":4.1,"lo":-0.08,"hi":0.058},{"t":4.25,"lo":-0.075,"hi":0.065},{"t":4.4,"lo":-0.082,"hi":0.06},{"t":4.55,"lo":-0.078,"hi":0.068},{"t":4.7,"lo":-0.075,"hi":0.062},{"t":4.85,"lo":-0.08,"hi":0.065},{"t":5.0,"lo":-0.078,"hi":0.075},{"t":5.15,"lo":-0.082,"hi":0.06},{"t":5.25,"lo":-0.08,"hi":0.068},{"t":5.4,"lo":-0.075,"hi":0.06},{"t":5.55,"lo":-0.078,"hi":0.065},{"t":5.7,"lo":-0.082,"hi":0.06},{"t":5.85,"lo":-0.076,"hi":0.062},{"t":6.0,"lo":-0.072,"hi":0.058},{"t":6.1,"lo":-0.08,"hi":0.07},{"t":6.25,"lo":-0.075,"hi":0.06},{"t":6.4,"lo":-0.07,"hi":0.062},{"t":6.55,"lo":-0.078,"hi":0.058},{"t":6.7,"lo":-0.072,"hi":0.055},{"t":6.85,"lo":-0.075,"hi":0.06},{"t":7.0,"lo":-0.07,"hi":0.052},{"t":7.15,"lo":-0.08,"hi":0.055},{"t":7.3,"lo":-0.075,"hi":0.05},{"t":7.4,"lo":-0.085,"hi":0.055},{"t":7.55,"lo":-0.07,"hi":0.05},{"t":7.7,"lo":-0.075,"hi":0.052},{"t":7.85,"lo":-0.068,"hi":0.048},{"t":8.0,"lo":-0.075,"hi":0.05},{"t":8.15,"lo":-0.07,"hi":0.046},{"t":8.3,"lo":-0.072,"hi":0.05},{"t":8.45,"lo":-0.068,"hi":0.045},{"t":8.6,"lo":-0.075,"hi":0.048},{"t":8.75,"lo":-0.07,"hi":0.044},{"t":8.9,"lo":-0.078,"hi":0.046},{"t":9.05,"lo":-0.072,"hi":0.042},{"t":9.2,"lo":-0.075,"hi":0.045},{"t":9.35,"lo":-0.07,"hi":0.04},{"t":9.5,"lo":-0.08,"hi":0.042},{"t":9.6,"lo":-0.092,"hi":0.038},{"t":9.75,"lo":-0.075,"hi":0.04},{"t":9.9,"lo":-0.08,"hi":0.036}],
"d_spk2":[{"t":0.12,"lo":-0.05,"hi":0.033},{"t":0.37,"lo":-0.055,"hi":0.035},{"t":0.62,"lo":-0.053,"hi":0.036},{"t":0.87,"lo":-0.057,"hi":0.037},{"t":1.12,"lo":-0.056,"hi":0.038},{"t":1.37,"lo":-0.06,"hi":0.039},{"t":1.62,"lo":-0.059,"hi":0.04},{"t":1.87,"lo":-0.062,"hi":0.042},{"t":2.12,"lo":-0.061,"hi":0.043},{"t":2.37,"lo":-0.064,"hi":0.044},{"t":2.62,"lo":-0.063,"hi":0.045},{"t":2.87,"lo":-0.066,"hi":0.046},{"t":3.12,"lo":-0.065,"hi":0.047},{"t":3.37,"lo":-0.068,"hi":0.048},{"t":3.62,"lo":-0.066,"hi":0.049},{"t":3.87,"lo":-0.069,"hi":0.05},{"t":4.12,"lo":-0.067,"hi":0.05},{"t":4.37,"lo":-0.07,"hi":0.051},{"t":4.62,"lo":-0.068,"hi":0.051},{"t":4.87,"lo":-0.07,"hi":0.052},{"t":5.12,"lo":-0.068,"hi":0.051},{"t":5.37,"lo":-0.069,"hi":0.05},{"t":5.62,"lo":-0.067,"hi":0.05},{"t":5.87,"lo":-0.068,"hi":0.049},{"t":6.12,"lo":-0.066,"hi":0.048},{"t":6.37,"lo":-0.067,"hi":0.047},{"t":6.62,"lo":-0.064,"hi":0.046},{"t":6.87,"lo":-0.065,"hi":0.045},{"t":7.12,"lo":-0.062,"hi":0.044},{"t":7.37,"lo":-0.063,"hi":0.043},{"t":7.62,"lo":-0.06,"hi":0.042},{"t":7.87,"lo":-0.061,"hi":0.041},{"t":8.12,"lo":-0.058,"hi":0.04},{"t":8.37,"lo":-0.059,"hi":0.039},{"t":8.62,"lo":-0.057,"hi":0.038},{"t":8.87,"lo":-0.058,"hi":0.038},{"t":9.12,"lo":-0.056,"hi":0.037},{"t":9.37,"lo":-0.057,"hi":0.036},{"t":9.62,"lo":-0.055,"hi":0.035},{"t":9.87,"lo":-0.056,"hi":0.035}],
"e_core":[{"t":0,"chi":0.04,"clo":-0.035,"fhi":0.07,"flo":-0.065},{"t":0.25,"chi":0.045,"clo":-0.04,"fhi":0.08,"flo":-0.07},{"t":0.5,"chi":0.04,"clo":-0.038,"fhi":0.075,"flo":-0.068},{"t":0.75,"chi":0.045,"clo":-0.04,"fhi":0.08,"flo":-0.072},{"t":1,"chi":0.042,"clo":-0.038,"fhi":0.078,"flo":-0.07},{"t":1.25,"chi":0.046,"clo":-0.042,"fhi":0.082,"flo":-0.074},{"t":1.5,"chi":0.044,"clo":-0.04,"fhi":0.08,"flo":-0.072},{"t":1.75,"chi":0.048,"clo":-0.043,"fhi":0.085,"flo":-0.076},{"t":2,"chi":0.05,"clo":-0.045,"fhi":0.088,"flo":-0.078},{"t":2.25,"chi":0.05,"clo":-0.046,"fhi":0.09,"flo":-0.08},{"t":2.5,"chi":0.052,"clo":-0.048,"fhi":0.092,"flo":-0.082},{"t":2.75,"chi":0.054,"clo":-0.048,"fhi":0.095,"flo":-0.085},{"t":3,"chi":0.055,"clo":-0.05,"fhi":0.098,"flo":-0.086},{"t":3.25,"chi":0.056,"clo":-0.05,"fhi":0.1,"flo":-0.088},{"t":3.5,"chi":0.058,"clo":-0.052,"fhi":0.1,"flo":-0.09},{"t":3.75,"chi":0.058,"clo":-0.052,"fhi":0.102,"flo":-0.09},{"t":4,"chi":0.06,"clo":-0.054,"fhi":0.105,"flo":-0.092},{"t":4.25,"chi":0.06,"clo":-0.054,"fhi":0.104,"flo":-0.092},{"t":4.5,"chi":0.06,"clo":-0.055,"fhi":0.105,"flo":-0.094},{"t":4.75,"chi":0.06,"clo":-0.054,"fhi":0.104,"flo":-0.092},{"t":5,"chi":0.06,"clo":-0.055,"fhi":0.105,"flo":-0.093},{"t":5.25,"chi":0.058,"clo":-0.054,"fhi":0.103,"flo":-0.092},{"t":5.5,"chi":0.058,"clo":-0.053,"fhi":0.1,"flo":-0.09},{"t":5.75,"chi":0.056,"clo":-0.052,"fhi":0.098,"flo":-0.088},{"t":6,"chi":0.055,"clo":-0.05,"fhi":0.096,"flo":-0.086},{"t":6.25,"chi":0.054,"clo":-0.049,"fhi":0.094,"flo":-0.084},{"t":6.5,"chi":0.052,"clo":-0.048,"fhi":0.092,"flo":-0.082},{"t":6.75,"chi":0.051,"clo":-0.047,"fhi":0.09,"flo":-0.08},{"t":7,"chi":0.05,"clo":-0.046,"fhi":0.088,"flo":-0.078},{"t":7.25,"chi":0.049,"clo":-0.045,"fhi":0.086,"flo":-0.077},{"t":7.5,"chi":0.048,"clo":-0.044,"fhi":0.085,"flo":-0.076},{"t":7.75,"chi":0.047,"clo":-0.043,"fhi":0.084,"flo":-0.075},{"t":8,"chi":0.046,"clo":-0.042,"fhi":0.082,"flo":-0.074},{"t":8.25,"chi":0.046,"clo":-0.042,"fhi":0.082,"flo":-0.073},{"t":8.5,"chi":0.045,"clo":-0.041,"fhi":0.08,"flo":-0.072},{"t":8.75,"chi":0.045,"clo":-0.041,"fhi":0.08,"flo":-0.072},{"t":9,"chi":0.044,"clo":-0.04,"fhi":0.078,"flo":-0.07},{"t":9.25,"chi":0.044,"clo":-0.04,"fhi":0.078,"flo":-0.07},{"t":9.5,"chi":0.043,"clo":-0.039,"fhi":0.076,"flo":-0.069},{"t":9.75,"chi":0.043,"clo":-0.039,"fhi":0.076,"flo":-0.068},{"t":10,"chi":0.042,"clo":-0.038,"fhi":0.075,"flo":-0.068}],
"e_spk":[{"t":0.1,"lo":-0.12,"hi":0.15},{"t":0.28,"lo":-0.22,"hi":0.35},{"t":0.45,"lo":-0.15,"hi":0.28},{"t":0.6,"lo":-0.2,"hi":0.3},{"t":0.78,"lo":-0.12,"hi":0.22},{"t":0.95,"lo":-0.18,"hi":0.3},{"t":1.1,"lo":-0.2,"hi":0.25},{"t":1.28,"lo":-0.15,"hi":0.3},{"t":1.45,"lo":-0.22,"hi":0.2},{"t":1.6,"lo":-0.14,"hi":0.28},{"t":1.75,"lo":-0.2,"hi":0.3},{"t":1.92,"lo":-0.16,"hi":0.25},{"t":2.08,"lo":-0.28,"hi":0.35},{"t":2.25,"lo":-0.22,"hi":0.42},{"t":2.4,"lo":-0.3,"hi":0.3},{"t":2.55,"lo":-0.25,"hi":0.45},{"t":2.68,"lo":-0.45,"hi":0.35},{"t":2.85,"lo":-0.3,"hi":0.4},{"t":3.0,"lo":-0.28,"hi":0.55},{"t":3.15,"lo":-0.35,"hi":0.42},{"t":3.3,"lo":-0.32,"hi":0.5},{"t":3.45,"lo":-0.4,"hi":0.45},{"t":3.6,"lo":-0.35,"hi":0.52},{"t":3.75,"lo":-0.42,"hi":0.48},{"t":3.95,"lo":-0.55,"hi":0.63},{"t":4.1,"lo":-0.38,"hi":0.5},{"t":4.25,"lo":-0.4,"hi":0.55},{"t":4.4,"lo":-0.35,"hi":0.45},{"t":4.55,"lo":-0.42,"hi":0.52},{"t":4.7,"lo":-0.3,"hi":0.5},{"t":4.85,"lo":-0.45,"hi":0.58},{"t":5.0,"lo":-0.38,"hi":0.48},{"t":5.15,"lo":-0.35,"hi":0.6},{"t":5.35,"lo":-0.38,"hi":0.72},{"t":5.5,"lo":-0.32,"hi":0.5},{"t":5.65,"lo":-0.3,"hi":0.55},{"t":5.8,"lo":-0.35,"hi":0.45},{"t":5.95,"lo":-0.28,"hi":0.5},{"t":6.1,"lo":-0.3,"hi":0.42},{"t":6.25,"lo":-0.26,"hi":0.45},{"t":6.4,"lo":-0.28,"hi":0.38},{"t":6.55,"lo":-0.24,"hi":0.4},{"t":6.75,"lo":-0.32,"hi":0.35},{"t":6.9,"lo":-0.22,"hi":0.38},{"t":7.05,"lo":-0.25,"hi":0.32},{"t":7.2,"lo":-0.2,"hi":0.35},{"t":7.38,"lo":-0.22,"hi":0.3},{"t":7.55,"lo":-0.18,"hi":0.33},{"t":7.7,"lo":-0.2,"hi":0.28},{"t":7.85,"lo":-0.16,"hi":0.3},{"t":8.0,"lo":-0.18,"hi":0.25},{"t":8.2,"lo":-0.15,"hi":0.3},{"t":8.35,"lo":-0.17,"hi":0.22},{"t":8.5,"lo":-0.14,"hi":0.25},{"t":8.7,"lo":-0.16,"hi":0.27},{"t":8.85,"lo":-0.13,"hi":0.2},{"t":9.0,"lo":-0.15,"hi":0.22},{"t":9.2,"lo":-0.12,"hi":0.2},{"t":9.4,"lo":-0.13,"hi":0.22},{"t":9.6,"lo":-0.12,"hi":0.18},{"t":9.8,"lo":-0.1,"hi":0.15},{"t":9.95,"lo":-0.11,"hi":0.18}],
"e_spk2":[{"t":0.18,"lo":-0.09,"hi":0.12},{"t":0.53,"lo":-0.1,"hi":0.14},{"t":0.87,"lo":-0.09,"hi":0.13},{"t":1.2,"lo":-0.1,"hi":0.15},{"t":1.53,"lo":-0.1,"hi":0.14},{"t":1.85,"lo":-0.11,"hi":0.16},{"t":2.17,"lo":-0.12,"hi":0.18},{"t":2.48,"lo":-0.13,"hi":0.2},{"t":2.77,"lo":-0.14,"hi":0.22},{"t":3.08,"lo":-0.15,"hi":0.24},{"t":3.38,"lo":-0.16,"hi":0.25},{"t":3.68,"lo":-0.16,"hi":0.26},{"t":3.85,"lo":-0.17,"hi":0.27},{"t":4.18,"lo":-0.17,"hi":0.28},{"t":4.48,"lo":-0.17,"hi":0.28},{"t":4.78,"lo":-0.17,"hi":0.27},{"t":5.08,"lo":-0.16,"hi":0.27},{"t":5.25,"lo":-0.16,"hi":0.26},{"t":5.58,"lo":-0.15,"hi":0.25},{"t":5.88,"lo":-0.15,"hi":0.24},{"t":6.18,"lo":-0.14,"hi":0.23},{"t":6.48,"lo":-0.13,"hi":0.22},{"t":6.65,"lo":-0.13,"hi":0.21},{"t":6.98,"lo":-0.12,"hi":0.2},{"t":7.3,"lo":-0.12,"hi":0.19},{"t":7.62,"lo":-0.11,"hi":0.18},{"t":7.92,"lo":-0.11,"hi":0.17},{"t":8.28,"lo":-0.1,"hi":0.16},{"t":8.6,"lo":-0.1,"hi":0.15},{"t":8.93,"lo":-0.1,"hi":0.14},{"t":9.3,"lo":-0.09,"hi":0.13},{"t":9.7,"lo":-0.09,"hi":0.12}]
},
"vconcat":[
{"width":255,"height":79,"title":{"text":"(a)"},
"encoding":{"x":{"field":"t","type":"quantitative","title":"Time(s)","scale":{"domain":[0,10],"nice":false},"axis":{"values":[0,2,4,6,8,10]}}},
"layer":[
{"data":{"name":"a_core"},"mark":{"type":"area","color":"#3d8bd0"},"encoding":{"y":{"field":"flo","type":"quantitative","title":"Magnitude","scale":{"domain":[-0.105,0.058],"nice":false,"zero":false},"axis":{"values":[-0.1,-0.05,0,0.05],"labelOverlap":false,"format":"~g"}},"y2":{"field":"fhi"}}},
{"data":{"name":"a_spk"},"mark":{"type":"rule","color":"#62a4dc","strokeWidth":0.8,"clip":true},"encoding":{"y":{"field":"lo","type":"quantitative","title":"Magnitude","axis":{"values":[-0.1,-0.05,0,0.05],"labelOverlap":false,"format":"~g"}},"y2":{"field":"hi"}}},
{"data":{"name":"a_spk2"},"mark":{"type":"rule","color":"#4b95d5","strokeWidth":0.8,"clip":true},"encoding":{"y":{"field":"lo","type":"quantitative","title":"Magnitude","axis":{"values":[-0.1,-0.05,0,0.05],"labelOverlap":false,"format":"~g"}},"y2":{"field":"hi"}}},
{"data":{"name":"a_core"},"mark":{"type":"area","color":"#0a6ab6"},"encoding":{"y":{"field":"clo","type":"quantitative","title":"Magnitude","axis":{"values":[-0.1,-0.05,0,0.05],"labelOverlap":false,"format":"~g"}},"y2":{"field":"chi"}}}]},
{"width":255,"height":79,"title":{"text":"(b)"},
"encoding":{"x":{"field":"t","type":"quantitative","title":"Time(s)","scale":{"domain":[0,10],"nice":false},"axis":{"values":[0,2,4,6,8,10]}}},
"layer":[
{"data":{"name":"b_core"},"mark":{"type":"area","color":"#3d8bd0"},"encoding":{"y":{"field":"flo","type":"quantitative","title":"Magnitude","scale":{"domain":[-0.102,0.108],"nice":false,"zero":false},"axis":{"values":[-0.1,-0.05,0,0.05,0.1],"labelOverlap":false,"format":"~g"}},"y2":{"field":"fhi"}}},
{"data":{"name":"b_spk"},"mark":{"type":"rule","color":"#62a4dc","strokeWidth":0.8,"clip":true},"encoding":{"y":{"field":"lo","type":"quantitative","title":"Magnitude","axis":{"values":[-0.1,-0.05,0,0.05,0.1],"labelOverlap":false,"format":"~g"}},"y2":{"field":"hi"}}},
{"data":{"name":"b_spk2"},"mark":{"type":"rule","color":"#4b95d5","strokeWidth":0.8,"clip":true},"encoding":{"y":{"field":"lo","type":"quantitative","title":"Magnitude","axis":{"values":[-0.1,-0.05,0,0.05,0.1],"labelOverlap":false,"format":"~g"}},"y2":{"field":"hi"}}},
{"data":{"name":"b_core"},"mark":{"type":"area","color":"#0a6ab6"},"encoding":{"y":{"field":"clo","type":"quantitative","title":"Magnitude","axis":{"values":[-0.1,-0.05,0,0.05,0.1],"labelOverlap":false,"format":"~g"}},"y2":{"field":"chi"}}}]},
{"width":255,"height":79,"title":{"text":"(c)"},
"encoding":{"x":{"field":"t","type":"quantitative","title":"Time(s)","scale":{"domain":[0,10],"nice":false},"axis":{"values":[0,2,4,6,8,10]}}},
"layer":[
{"data":{"name":"c_core"},"mark":{"type":"area","color":"#3d8bd0"},"encoding":{"y":{"field":"flo","type":"quantitative","title":"Magnitude","scale":{"domain":[-1.3,1.15],"nice":false,"zero":false},"axis":{"values":[-1,-0.5,0,0.5,1],"labelOverlap":false,"format":"~g"}},"y2":{"field":"fhi"}}},
{"data":{"name":"c_spk"},"mark":{"type":"rule","color":"#62a4dc","strokeWidth":0.8,"clip":true},"encoding":{"y":{"field":"lo","type":"quantitative","title":"Magnitude","axis":{"values":[-1,-0.5,0,0.5,1],"labelOverlap":false,"format":"~g"}},"y2":{"field":"hi"}}},
{"data":{"name":"c_spk2"},"mark":{"type":"rule","color":"#4b95d5","strokeWidth":0.8,"clip":true},"encoding":{"y":{"field":"lo","type":"quantitative","title":"Magnitude","axis":{"values":[-1,-0.5,0,0.5,1],"labelOverlap":false,"format":"~g"}},"y2":{"field":"hi"}}},
{"data":{"name":"c_core"},"mark":{"type":"area","color":"#0a6ab6"},"encoding":{"y":{"field":"clo","type":"quantitative","title":"Magnitude","axis":{"values":[-1,-0.5,0,0.5,1],"labelOverlap":false,"format":"~g"}},"y2":{"field":"chi"}}}]},
{"width":255,"height":79,"title":{"text":"(d)"},
"encoding":{"x":{"field":"t","type":"quantitative","title":"Time(s)","scale":{"domain":[0,10],"nice":false},"axis":{"values":[0,2,4,6,8,10]}}},
"layer":[
{"data":{"name":"d_core"},"mark":{"type":"area","color":"#3d8bd0"},"encoding":{"y":{"field":"flo","type":"quantitative","title":"Magnitude","scale":{"domain":[-0.105,0.106],"nice":false,"zero":false},"axis":{"values":[-0.1,-0.05,0,0.05,0.1],"labelOverlap":false,"format":"~g"}},"y2":{"field":"fhi"}}},
{"data":{"name":"d_spk"},"mark":{"type":"rule","color":"#62a4dc","strokeWidth":0.8,"clip":true},"encoding":{"y":{"field":"lo","type":"quantitative","title":"Magnitude","axis":{"values":[-0.1,-0.05,0,0.05,0.1],"labelOverlap":false,"format":"~g"}},"y2":{"field":"hi"}}},
{"data":{"name":"d_spk2"},"mark":{"type":"rule","color":"#4b95d5","strokeWidth":0.8,"clip":true},"encoding":{"y":{"field":"lo","type":"quantitative","title":"Magnitude","axis":{"values":[-0.1,-0.05,0,0.05,0.1],"labelOverlap":false,"format":"~g"}},"y2":{"field":"hi"}}},
{"data":{"name":"d_core"},"mark":{"type":"area","color":"#0a6ab6"},"encoding":{"y":{"field":"clo","type":"quantitative","title":"Magnitude","axis":{"values":[-0.1,-0.05,0,0.05,0.1],"labelOverlap":false,"format":"~g"}},"y2":{"field":"chi"}}}]},
{"width":255,"height":79,"title":{"text":"(e)"},
"encoding":{"x":{"field":"t","type":"quantitative","title":"Time(s)","scale":{"domain":[0,10],"nice":false},"axis":{"values":[0,2,4,6,8,10]}}},
"layer":[
{"data":{"name":"e_core"},"mark":{"type":"area","color":"#3d8bd0"},"encoding":{"y":{"field":"flo","type":"quantitative","title":"Magnitude","scale":{"domain":[-0.57,1.05],"nice":false,"zero":false},"axis":{"values":[-0.5,0,0.5,1],"labelOverlap":false,"format":"~g"}},"y2":{"field":"fhi"}}},
{"data":{"name":"e_spk"},"mark":{"type":"rule","color":"#62a4dc","strokeWidth":0.8,"clip":true},"encoding":{"y":{"field":"lo","type":"quantitative","title":"Magnitude","axis":{"values":[-0.5,0,0.5,1],"labelOverlap":false,"format":"~g"}},"y2":{"field":"hi"}}},
{"data":{"name":"e_spk2"},"mark":{"type":"rule","color":"#4b95d5","strokeWidth":0.8,"clip":true},"encoding":{"y":{"field":"lo","type":"quantitative","title":"Magnitude","axis":{"values":[-0.5,0,0.5,1],"labelOverlap":false,"format":"~g"}},"y2":{"field":"hi"}}},
{"data":{"name":"e_core"},"mark":{"type":"area","color":"#0a6ab6"},"encoding":{"y":{"field":"clo","type":"quantitative","title":"Magnitude","axis":{"values":[-0.5,0,0.5,1],"labelOverlap":false,"format":"~g"}},"y2":{"field":"chi"}}}]}
]
}
